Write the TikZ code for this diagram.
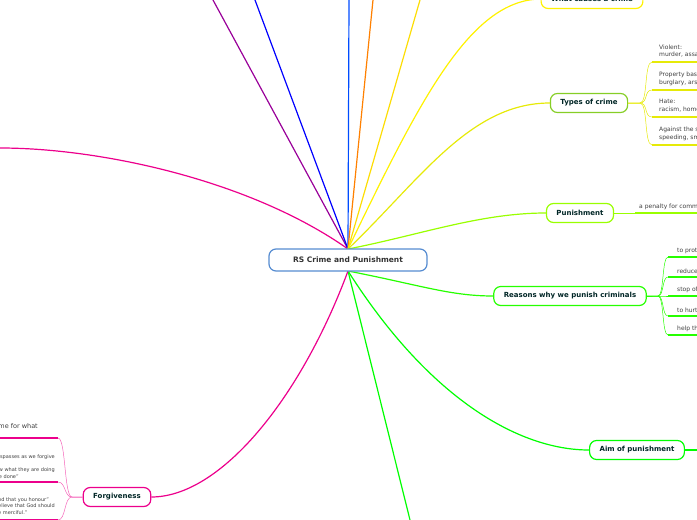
\documentclass[tikz,border=0pt]{standalone}
\usepackage{fontspec}
\setmainfont{DejaVu Sans}
\begin{document}
\begin{tikzpicture}[x=1pt,y=-1pt,
 topic/.style={draw=#1,line width=1.2pt,rounded corners=7pt,fill=white,font=\bfseries\fontsize{7}{8}\selectfont,text=black!70!teal,minimum height=19pt,inner xsep=10pt},
 leaf/.style={font=\fontsize{6}{7.5}\selectfont,text=black!75,align=left,anchor=west,inner sep=0pt},
 br/.style={line width=1.2pt,draw=#1},
 thin/.style={line width=0.5pt,draw=#1}]
\useasboundingbox (0,0) rectangle (697,520);
\clip (0,0) rectangle (697,520);
\coordinate (ct) at (348,249);
\coordinate (cb) at (348,271);
% off-picture branches
\coordinate (e1) at (0,148);
\coordinate (e2) at (213,0);
\coordinate (e3) at (255,0);
\coordinate (e4) at (349,0);
\coordinate (e5) at (373,0);
\coordinate (e6) at (420,0);
\coordinate (e7) at (410,520);
\draw[br=magenta] (ct) .. controls (250,180) and (100,148) .. (e1);
\draw[br=violet!80!magenta] (ct) -- (e2);
\draw[br=blue] (ct) -- (e3);
\draw[br=blue!70!cyan] (ct) -- (e4);
\draw[br=orange] (ct) -- (e5);
\draw[br=yellow!80!orange] (ct) -- (e6);
\draw[br=green] (cb) -- (e7);
% topic nodes
\node[topic=yellow] (cause) at (592,-1) {What causes a crime};
\node[topic=yellow!50!green!90!lime] (types) at (589,103) {Types of crime};
\node[topic=lime!80!green] (pun) at (580,213) {Punishment};
\node[topic=green!80!lime] (reas) at (570,296) {Reasons why we punish criminals};
\node[topic=green] (aim) at (637,450) {Aim of punishment};
\node[topic=magenta] (forg) at (117,497) {Forgiveness};
\draw[br=yellow] (ct) .. controls (420,100) and (470,0) .. (cause.west);
\draw[br=yellow!60!lime] (ct) .. controls (420,180) and (470,103) .. (types.west);
\draw[br=lime!80!green] (ct) .. controls (420,235) and (480,213) .. (pun.west);
\draw[br=green!80!lime] (cb) .. controls (420,285) and (450,296) .. (reas.west);
\draw[br=green] (cb) .. controls (430,400) and (520,450) .. (aim.west);
\draw[br=magenta] (cb) .. controls (300,400) and (220,497) .. (forg.east);
\node[draw=cyan!50!blue!70,line width=1.2pt,rounded corners=7pt,fill=white,font=\bfseries\fontsize{7.5}{9}\selectfont,text=black!80,minimum width=158pt,minimum height=22pt] (cn) at (348,260) {RS Crime and Punishment};
\draw[thin=yellow] (cause.east) -- (697,-1);
\draw[br=green] (aim.east) -- (697,450);
% types leaves
\foreach \y/\t [count=\i] in {62/{Violent:\\murder, assault},90/{Property based:\\burglary, arson},117/{Hate:\\racism, homophobia},145/{Against the state:\\speeding, smuggling}}{
  \coordinate (tl\i) at (652,\y);
  \draw[thin=yellow!60!lime] (types.east) -- (640,103) .. controls (648,103) and (644,\y) .. (tl\i);
  \draw[br=yellow!60!lime] (tl\i) -- (700,\y);
  \node[leaf] (tt\i) at (659,\y-11) {\t};
}
% punishment leaf
\coordinate (pl) at (635,213);
\draw[thin=lime!80!green] (pun.east) -- (pl);
\draw[br=lime!80!green] (pl) -- (700,213);
\node[leaf] (pt) at (639,207) {a penalty for committing a crime};
% reasons leaves
\foreach \y/\t [count=\i] in {257/{to protect society},277/{reduce crime},296/{stop offenders},316/{to hurt the offender},335/{help them reform}}{
  \coordinate (rl\i) at (668,\y);
  \draw[thin=green!80!lime] (reas.east) -- (658,296) .. controls (664,296) and (662,\y) .. (rl\i);
  \draw[br=green!80!lime] (rl\i) -- (700,\y);
  \node[leaf] (rt\i) at (677,\y-6) {\t};
}
% forgiveness leaves
\node[leaf,font=\fontsize{6.5}{8}\selectfont,anchor=east] (fa) at (38,426) {time for what};
\foreach \y [count=\i] in {438,482,520}{
  \coordinate (fl\i) at (58,\y);
  \draw[thin=magenta!60] (forg.west) -- (72,497) .. controls (64,497) and (66,\y) .. (fl\i);
  \draw[br=magenta] (fl\i) -- (-5,\y);
}
\node[leaf,font=\fontsize{5}{7}\selectfont,anchor=east,align=left] (ft1) at (55,457) {trespasses as we forgive};
\node[leaf,font=\fontsize{5}{7}\selectfont,anchor=east,align=left] (ft2) at (55,473) {know what they are doing\\have done"};
\node[leaf,font=\fontsize{5}{6.5}\selectfont,anchor=east,align=left] (ft3) at (55,506) {and that you honour"\\believe that God should\\be merciful."};
\end{tikzpicture}
\end{document}
